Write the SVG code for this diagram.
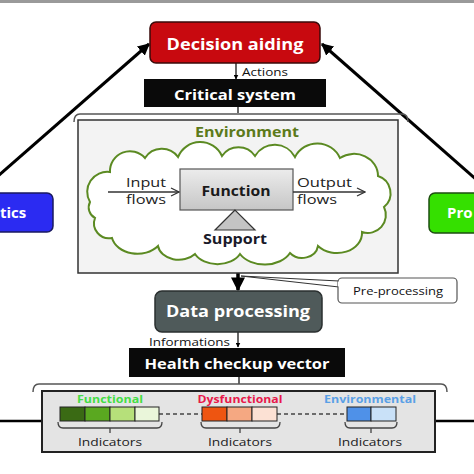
<svg xmlns="http://www.w3.org/2000/svg" width="474" height="474" viewBox="0 0 474 474">
<defs>
<style>
.b{font-family:"Open Sans","Liberation Sans",sans-serif;font-weight:bold}
.n{font-family:"Open Sans","Liberation Sans",sans-serif}
.w{fill:#fff}
.ln{stroke:#000;fill:none}
</style>
<marker id="big" viewBox="0 0 10 10" refX="9" refY="5" markerWidth="4" markerHeight="4" orient="auto">
<path d="M0,0 L10,5 L0,10 z" fill="#000"/>
</marker>
<marker id="sm" viewBox="0 0 10 10" refX="9" refY="5" markerWidth="5" markerHeight="5" orient="auto" markerUnits="userSpaceOnUse">
<path d="M0,0 L10,5 L0,10 z" fill="#000"/>
</marker>
<marker id="open" viewBox="0 0 10 10" refX="9" refY="5" markerWidth="10" markerHeight="10" orient="auto" markerUnits="userSpaceOnUse">
<path d="M1,1 L9,5 L1,9" fill="none" stroke="#333" stroke-width="1.3"/>
</marker>
<linearGradient id="fg" x1="0" y1="0" x2="0" y2="1">
<stop offset="0" stop-color="#ececec"/>
<stop offset="1" stop-color="#c6c6c6"/>
</linearGradient>
</defs>
<rect x="0" y="0" width="474" height="474" fill="#fff"/>
<rect x="0" y="0" width="474" height="3" fill="#9a9a9a"/>

<g id="connectors">
<line x1="-25" y1="196" x2="149" y2="44" stroke="#000" stroke-width="3" marker-end="url(#big)"/>
<line x1="495" y1="196" x2="322" y2="44" stroke="#000" stroke-width="3" marker-end="url(#big)"/>
<line x1="236" y1="63" x2="236" y2="79" stroke="#000" stroke-width="1.2" marker-end="url(#sm)"/>
<line x1="238" y1="107" x2="238" y2="113" stroke="#000" stroke-width="1.2"/>
<path d="M74,122 Q74,114 80,114 L402,114 Q408,114 408,122" fill="none" stroke="#555" stroke-width="1.5"/>
<line x1="238" y1="273" x2="238" y2="290" stroke="#000" stroke-width="3.5" marker-end="url(#big)"/>
<line x1="238" y1="332" x2="238" y2="347" stroke="#000" stroke-width="1.2" marker-end="url(#sm)"/>
<line x1="239" y1="377" x2="239" y2="384" stroke="#000" stroke-width="1.2"/>
<path d="M33,392 Q33,384 39,384 L441,384 Q447,384 447,392" fill="none" stroke="#555" stroke-width="1.5"/>
<line x1="0" y1="421" x2="43" y2="421" stroke="#000" stroke-width="2.5"/>
<line x1="434" y1="421" x2="474" y2="421" stroke="#000" stroke-width="2.5"/>
</g>

<g id="diagnostics">
<rect x="-30" y="193" width="83" height="39" rx="6" fill="#2b2bf2" stroke="#1a1a60" stroke-width="1.5"/>
<text x="0" y="218" class="b w" font-size="15">tics</text>
</g>

<g id="prognostics">
<rect x="429" y="193" width="80" height="40" rx="6" fill="#35e000" stroke="#1d4d10" stroke-width="1.5"/>
<text x="447" y="218" class="b w" font-size="15">Pro</text>
</g>

<g id="decision">
<rect x="150" y="22" width="170" height="41" rx="6" fill="#c8090f" stroke="#3a0a0a" stroke-width="1.5"/>
<text x="235" y="50" text-anchor="middle" class="b w" font-size="16" textLength="137" lengthAdjust="spacingAndGlyphs">Decision aiding</text>
</g>
<text x="242" y="76" class="n" font-size="10" fill="#111" textLength="46" lengthAdjust="spacingAndGlyphs">Actions</text>

<g id="critical">
<rect x="144" y="79" width="182" height="28" fill="#0a0a0a"/>
<text x="235" y="100" text-anchor="middle" class="b w" font-size="15" textLength="122" lengthAdjust="spacingAndGlyphs">Critical system</text>
</g>

<g id="environment">
<rect x="78" y="120" width="320" height="153" fill="#f3f3f3" stroke="#333" stroke-width="1.5"/>
<text x="247" y="137" text-anchor="middle" class="b" font-size="14" fill="#5c7a1a" textLength="104" lengthAdjust="spacingAndGlyphs">Environment</text>
<path d="M90,202 A20,20 0 0 1 110,172 A20,20 0 0 1 145,158 A20,20 0 0 1 178,157 A24,24 0 0 1 222,156 A20,20 0 0 1 255,156 A23,23 0 0 1 295,157 A25,25 0 0 1 340,158 A24,22 0 0 1 378,176 A18,18 0 0 1 384,207 A18,18 0 0 1 362,232 A25,20 0 0 1 318,246 A16,14 0 0 1 290,253 A28,20 0 0 1 240,254 A25,18 0 0 1 195,254 A21,16 0 0 1 158,246 A26,20 0 0 1 112,238 A15,15 0 0 1 95,218 A12,12 0 0 1 90,202 Z" fill="#fff" stroke="#5b8a22" stroke-width="2"/>
</g>

<g id="function">
<rect x="180" y="169" width="113" height="41" fill="url(#fg)" stroke="#555" stroke-width="1.2"/>
<text x="236" y="196" text-anchor="middle" class="b" font-size="15" fill="#1a1a1a" textLength="69" lengthAdjust="spacingAndGlyphs">Function</text>
</g>

<g id="input">
<line x1="108" y1="192" x2="179" y2="192" stroke="#333" stroke-width="1.3" marker-end="url(#open)"/>
<text x="126" y="187" class="n" font-size="13" fill="#222" textLength="40" lengthAdjust="spacingAndGlyphs">Input</text>
<text x="126" y="204" class="n" font-size="13" fill="#222" textLength="40" lengthAdjust="spacingAndGlyphs">flows</text>
</g>

<g id="output">
<line x1="293" y1="192" x2="365" y2="192" stroke="#333" stroke-width="1.3" marker-end="url(#open)"/>
<text x="297" y="187" class="n" font-size="13" fill="#222" textLength="55" lengthAdjust="spacingAndGlyphs">Output</text>
<text x="297" y="204" class="n" font-size="13" fill="#222" textLength="40" lengthAdjust="spacingAndGlyphs">flows</text>
</g>

<g id="support">
<polygon points="235,210 215,230 255,230" fill="#c4c4c4" stroke="#333" stroke-width="1.2"/>
<text x="235" y="244" text-anchor="middle" class="b" font-size="14" fill="#1a1a2a" textLength="64" lengthAdjust="spacingAndGlyphs">Support</text>
</g>

<g id="preprocessing">
<polygon points="241,276 339,281 339,287" fill="#fff" stroke="#333" stroke-width="1"/>
<rect x="338" y="278" width="119" height="25" rx="4" fill="#fff" stroke="#555" stroke-width="1.2"/>
<line x1="338.6" y1="281.6" x2="338.6" y2="286.4" stroke="#fff" stroke-width="1.3"/>
<text x="398" y="295" text-anchor="middle" class="n" font-size="11" fill="#111" textLength="90" lengthAdjust="spacingAndGlyphs">Pre-processing</text>
</g>

<g id="dataprocessing">
<rect x="155" y="291" width="167" height="41" rx="7" fill="#4f5a5a" stroke="#2a2f2f" stroke-width="1.5"/>
<text x="238" y="317" text-anchor="middle" class="b w" font-size="16" textLength="144" lengthAdjust="spacingAndGlyphs">Data processing</text>
</g>
<text x="230" y="346" text-anchor="end" class="n" font-size="10" fill="#111" textLength="81" lengthAdjust="spacingAndGlyphs">Informations</text>

<g id="health">
<rect x="129" y="348" width="216" height="29" fill="#0a0a0a"/>
<text x="237" y="369" text-anchor="middle" class="b w" font-size="15" textLength="185" lengthAdjust="spacingAndGlyphs">Health checkup vector</text>
</g>

<g id="indicators">
<rect x="42" y="391" width="393" height="61" fill="#e4e4e4" stroke="#222" stroke-width="2"/>
<text x="110" y="403" text-anchor="middle" class="b" font-size="11" fill="#44dd44" textLength="66" lengthAdjust="spacingAndGlyphs">Functional</text>
<text x="240" y="403" text-anchor="middle" class="b" font-size="11" fill="#e8184a" textLength="85" lengthAdjust="spacingAndGlyphs">Dysfunctional</text>
<text x="370" y="403" text-anchor="middle" class="b" font-size="11" fill="#5aa0e6" textLength="92" lengthAdjust="spacingAndGlyphs">Environmental</text>
<line x1="159" y1="414" x2="202" y2="414" stroke="#444" stroke-width="1.5" stroke-dasharray="4,3"/>
<line x1="277" y1="414" x2="347" y2="414" stroke="#444" stroke-width="1.5" stroke-dasharray="4,3"/>
<g stroke="#222" stroke-width="1">
<rect x="60" y="407" width="25" height="14" fill="#3a6a14"/>
<rect x="85" y="407" width="25" height="14" fill="#5aa820"/>
<rect x="110" y="407" width="25" height="14" fill="#b6e07a"/>
<rect x="135" y="407" width="24" height="14" fill="#eaf6da"/>
<rect x="202" y="407" width="25" height="14" fill="#ee5511"/>
<rect x="227" y="407" width="25" height="14" fill="#f5a882"/>
<rect x="252" y="407" width="25" height="14" fill="#fce1d4"/>
<rect x="347" y="407" width="24" height="14" fill="#4f91e8"/>
<rect x="371" y="407" width="25" height="14" fill="#c9e1f8"/>
</g>
<g fill="none" stroke="#444" stroke-width="1.3">
<path d="M58,422 Q58,428 63,428 L157,428 Q162,428 162,422 M110,428 L110,433"/>
<path d="M201,422 Q201,428 206,428 L275,428 Q280,428 280,422 M240,428 L240,433"/>
<path d="M345,422 Q345,428 350,428 L392,428 Q397,428 397,422 M371,428 L371,433"/>
</g>
<text x="110" y="446" text-anchor="middle" class="n" font-size="11" fill="#222" textLength="64" lengthAdjust="spacingAndGlyphs">Indicators</text>
<text x="240" y="446" text-anchor="middle" class="n" font-size="11" fill="#222" textLength="64" lengthAdjust="spacingAndGlyphs">Indicators</text>
<text x="370" y="446" text-anchor="middle" class="n" font-size="11" fill="#222" textLength="64" lengthAdjust="spacingAndGlyphs">Indicators</text>
</g>
</svg>
